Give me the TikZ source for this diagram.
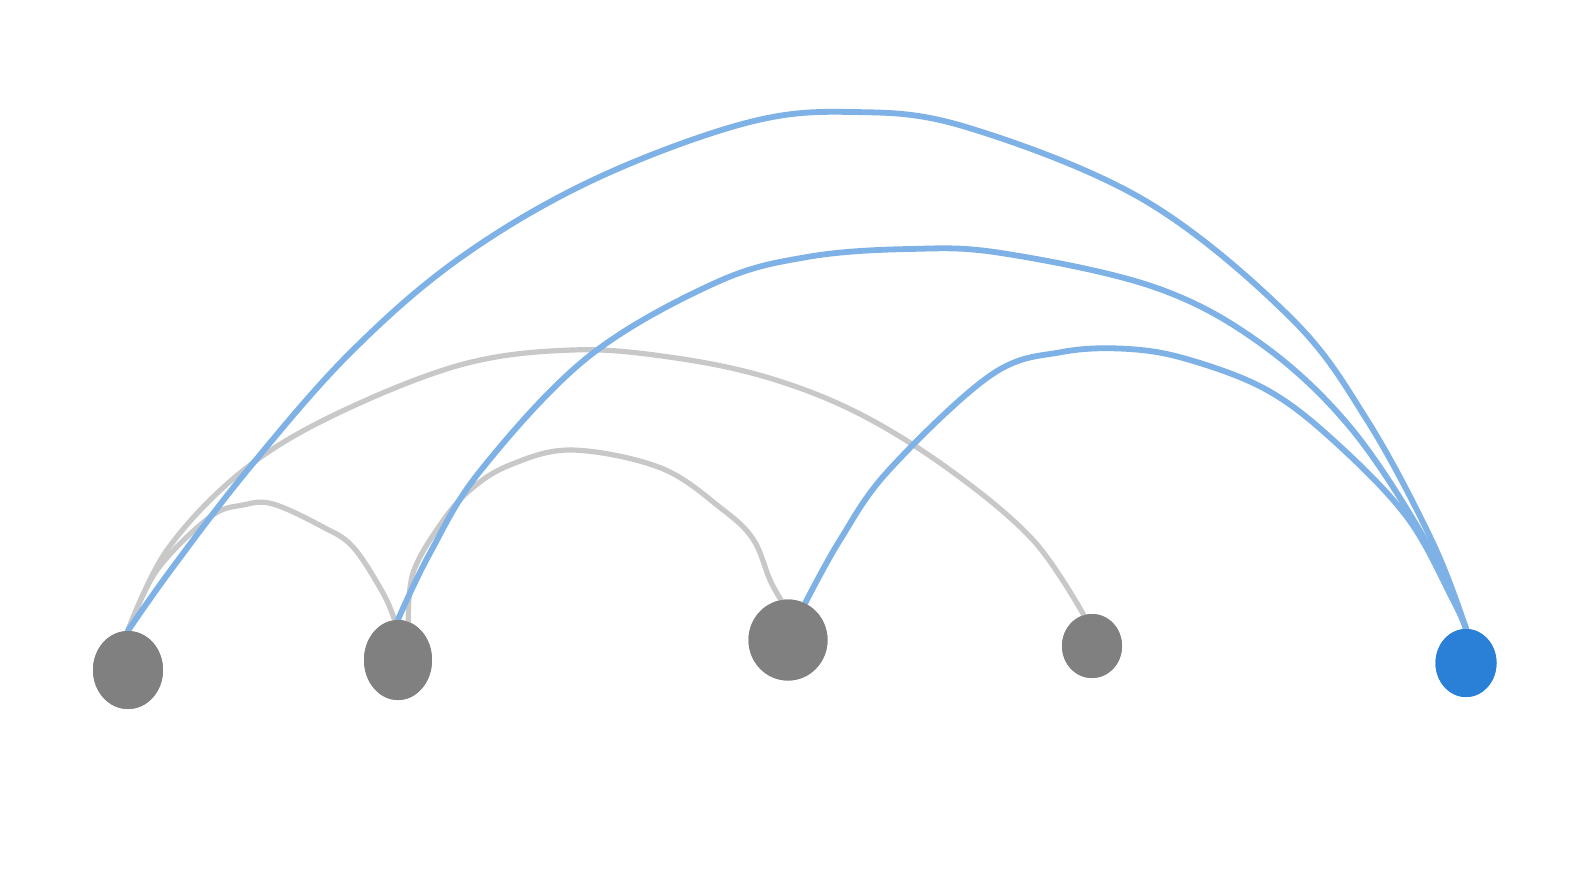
\documentclass[tikz,border=0pt]{standalone}
\usetikzlibrary{shapes.geometric}
\definecolor{nodegray}{HTML}{808080}
\definecolor{edgegray}{HTML}{C8C8C8}
\definecolor{edgeblue}{HTML}{7EB2E6}
\definecolor{nodeblue}{HTML}{2A80D6}
\tikzset{
  dot/.style={ellipse, draw=none, inner sep=0pt, fill=nodegray},
  hot/.style={dot, fill=nodeblue},
  grayedge/.style={draw=edgegray, line width=2.6pt, line cap=round, line join=round},
  blueedge/.style={draw=edgeblue, line width=2.9pt, line cap=round, line join=round},
}
\begin{document}
\begin{tikzpicture}[x=0.5pt, y=-0.5pt]
\useasboundingbox[fill=white] (0,0) rectangle (1595,891);
% nodes (placed first so anchors exist; redrawn on top below)
\path (128,670) node[dot, minimum width=35pt, minimum height=39pt] (A) {};
\path (398,660) node[dot, minimum width=34pt, minimum height=40pt] (B) {};
\path (788,640) node[dot, minimum width=39.5pt, minimum height=40.5pt] (C) {};
\path (1092,646) node[dot, minimum width=30pt, minimum height=32pt] (D) {};
\path (1466,663) node[hot, minimum width=30.5pt, minimum height=34pt] (E) {};
% gray edges
\draw[grayedge] plot[smooth, tension=0.6] coordinates {(A.north) (157,570) (210,517) (243,505) (273,504) (323,527) (353,547) (383,593) (B.95)};
\draw[grayedge] plot[smooth, tension=0.6] coordinates {(A.north) (167,550) (240,473) (330,417) (460,365) (572,350) (669,357) (766,377) (858,413) (950,470) (1033,540) (D.105)};
\draw[grayedge] plot[smooth, tension=0.6] coordinates {(B.75) (413,573) (440,525) (470,490) (510,465) (572,450) (661,468) (722,509) (753,539) (770,580) (C.100)};
% blue edges
\draw[blueedge] plot[smooth, tension=0.6] coordinates {(A.north) (173,567) (250,467) (350,353) (460,258) (593,180) (746,123) (853,112) (966,127) (1144,200) (1290,317) (1367,420) (1433,543) (E.north)};
\draw[blueedge] plot[smooth, tension=0.6] coordinates {(B.north) (430,553) (481,470) (588,357) (715,283) (807,257) (909,249) (1001,253) (1154,287) (1260,343) (1350,427) (1427,543) (E.north)};
\draw[blueedge] plot[smooth, tension=0.6] coordinates {(C.65) (840,540) (889,470) (991,375) (1062,352) (1129,349) (1190,360) (1267,390) (1333,440) (1407,517) (1453,600) (E.north)};
% nodes on top
\path (A) node[dot, minimum width=35pt, minimum height=39pt] {};
\path (B) node[dot, minimum width=34pt, minimum height=40pt] {};
\path (C) node[dot, minimum width=39.5pt, minimum height=40.5pt] {};
\path (D) node[dot, minimum width=30pt, minimum height=32pt] {};
\path (E) node[hot, minimum width=30.5pt, minimum height=34pt] {};
\end{tikzpicture}
\end{document}
